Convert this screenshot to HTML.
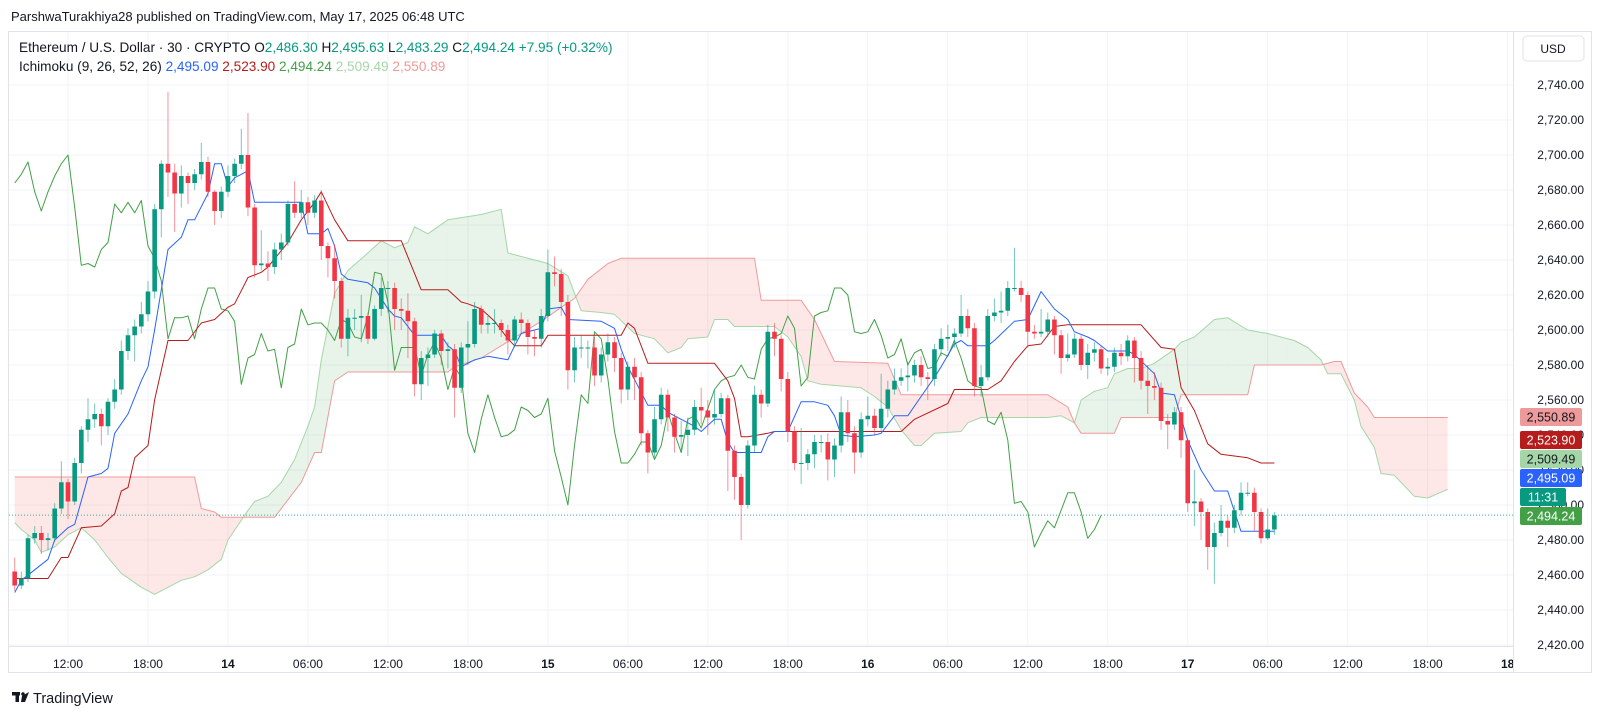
<!DOCTYPE html>
<html><head><meta charset="utf-8"><style>
html,body{margin:0;padding:0;background:#fff;width:1600px;height:718px;overflow:hidden}
body{font-family:"Liberation Sans",sans-serif;color:#131722}
svg{position:absolute;left:0;top:0}
</style></head><body>
<svg id="chart" width="1600" height="718" xmlns="http://www.w3.org/2000/svg">
<text x="11" y="21" font-size="13" fill="#131722">ParshwaTurakhiya28 published on TradingView.com, May 17, 2025 06:48 UTC</text>
<rect x="8.5" y="31.5" width="1583" height="641" fill="none" stroke="#e0e3eb"/>
<g id="grid"></g>
<g id="cloud"></g>
<g id="lines"></g>
<g id="candles"></g>
<g id="axes"></g>
<text x="19" y="52" font-size="13.6"><tspan fill="#131722">Ethereum / U.S. Dollar · 30 · CRYPTO </tspan><tspan fill="#131722"> O</tspan><tspan fill="#089981">2,486.30</tspan><tspan fill="#131722">  H</tspan><tspan fill="#089981">2,495.63</tspan><tspan fill="#131722">  L</tspan><tspan fill="#089981">2,483.29</tspan><tspan fill="#131722">  C</tspan><tspan fill="#089981">2,494.24</tspan><tspan fill="#089981">  +7.95 (+0.32%)</tspan></text>
<text x="19" y="71" font-size="13.6"><tspan fill="#131722">Ichimoku (9, 26, 52, 26) </tspan><tspan fill="#2962FF">2,495.09 </tspan><tspan fill="#B71C1C">2,523.90 </tspan><tspan fill="#43A047">2,494.24 </tspan><tspan fill="#A5D6A7">2,509.49 </tspan><tspan fill="#EF9A9A">2,550.89</tspan></text>
<rect x="1523" y="36" width="61" height="25" rx="4" fill="#fff" stroke="#e0e3eb"/>
<text x="1553" y="53" font-size="12" text-anchor="middle" fill="#131722">USD</text>
<g><rect x="12" y="692" width="8" height="3.5" fill="#131722"/><rect x="15.5" y="692" width="3.5" height="10" fill="#131722"/><circle cx="23" cy="694" r="1.8" fill="#131722"/><polygon points="22,696 29,692 25,702 21,702" fill="#131722"/><text x="33" y="703" font-size="14.5" fill="#131722">TradingView</text></g>
</svg>
<script>
const opens0=2462;
const closes=[2454,2458,2481,2484,2480,2481,2498,2513,2502,2524,2543,2549,2552,2545,2559,2566,2588,2597,2602,2609,2622,2669,2695,2690,2678,2688,2684,2689,2696,2679,2668,2679,2688,2695,2700,2670,2637,2638,2636,2646,2650,2672,2667,2673,2667,2674,2648,2641,2628,2595,2607,2607,2608,2595,2612,2624,2624,2612,2611,2605,2569,2584,2586,2598,2588,2589,2567,2590,2592,2612,2603,2604,2604,2600,2594,2606,2604,2596,2595,2608,2633,2632,2616,2577,2590,2590,2590,2574,2586,2593,2584,2566,2579,2573,2541,2530,2549,2563,2550,2539,2540,2543,2556,2554,2550,2552,2561,2531,2516,2500,2534,2563,2558,2599,2595,2572,2542,2524,2524,2529,2536,2536,2526,2534,2553,2541,2530,2549,2551,2544,2555,2566,2571,2573,2574,2580,2573,2572,2589,2595,2596,2598,2608,2601,2568,2573,2608,2610,2611,2624,2624,2620,2599,2598,2599,2606,2597,2584,2586,2595,2580,2587,2589,2578,2579,2587,2585,2594,2584,2571,2568,2567,2548,2546,2553,2537,2501,2502,2496,2476,2484,2491,2487,2497,2507,2507,2496,2481,2486,2494];
const highs=[2470,2462,2483,2488,2488,2484,2501,2525,2515,2527,2545,2561,2558,2555,2561,2572,2594,2601,2606,2616,2628,2672,2697,2736,2695,2694,2690,2692,2707,2699,2680,2682,2694,2698,2715,2724,2672,2657,2645,2650,2655,2674,2685,2680,2676,2677,2680,2650,2649,2630,2612,2612,2620,2610,2614,2630,2628,2627,2618,2621,2607,2588,2590,2600,2600,2593,2592,2593,2605,2616,2614,2608,2612,2606,2603,2608,2610,2606,2600,2612,2646,2642,2635,2620,2596,2597,2594,2596,2590,2598,2596,2587,2582,2584,2576,2543,2556,2567,2566,2552,2548,2550,2560,2567,2560,2566,2564,2563,2534,2518,2537,2568,2566,2603,2604,2597,2576,2545,2544,2532,2540,2540,2541,2538,2562,2560,2545,2553,2562,2555,2575,2571,2578,2578,2582,2583,2585,2576,2592,2601,2603,2601,2620,2612,2604,2580,2612,2618,2622,2628,2647,2628,2622,2603,2612,2610,2608,2600,2598,2598,2597,2592,2593,2591,2584,2590,2592,2597,2596,2588,2580,2576,2570,2552,2556,2556,2538,2520,2504,2498,2490,2500,2494,2500,2513,2513,2510,2498,2498,2496];
const lows=[2451,2452,2456,2478,2472,2474,2479,2495,2492,2500,2518,2536,2544,2534,2540,2555,2563,2583,2582,2598,2605,2618,2653,2676,2656,2670,2672,2680,2686,2676,2660,2664,2676,2684,2692,2665,2630,2634,2628,2632,2640,2648,2664,2664,2660,2664,2640,2630,2618,2590,2585,2600,2593,2592,2594,2608,2610,2600,2600,2584,2562,2560,2568,2584,2580,2578,2550,2564,2580,2590,2598,2598,2598,2596,2586,2590,2598,2586,2585,2590,2605,2625,2608,2566,2570,2584,2578,2568,2570,2582,2576,2558,2560,2560,2534,2518,2527,2546,2542,2530,2530,2528,2540,2546,2540,2546,2550,2508,2503,2480,2498,2530,2550,2556,2585,2565,2536,2520,2512,2520,2521,2530,2514,2516,2530,2536,2518,2527,2545,2540,2542,2550,2563,2568,2565,2570,2568,2560,2568,2585,2588,2590,2596,2596,2562,2562,2571,2605,2604,2608,2622,2616,2590,2595,2596,2596,2586,2575,2582,2584,2577,2572,2582,2575,2574,2576,2580,2582,2570,2566,2552,2560,2543,2532,2543,2527,2496,2488,2480,2463,2455,2482,2476,2484,2494,2505,2485,2478,2480,2483];
const tenkanIdx=[0,1,3,5,6,8,9,11,13,14,15,17,19,20,21,23,25,26,27,29,30,31,32,33,35,36,43,44,46,47,48,49,50,53,54,56,57,58,60,64,65,66,67,69,71,74,75,76,78,79,80,82,83,88,90,91,92,95,97,98,100,102,103,105,106,107,108,112,113,114,116,118,120,122,123,124,126,129,130,132,134,136,138,139,141,142,143,146,147,150,152,154,156,158,159,161,162,164,167,168,171,172,174,176,178,180,182,184,189];
const tenkanVal=[2450,2457,2463,2469,2480,2487,2489,2516,2518,2521,2541,2552,2571,2579,2600,2646,2653,2663,2663,2678,2695,2695,2682,2687,2691,2673,2673,2655,2655,2658,2648,2632,2629,2627,2624,2612,2608,2607,2597,2597,2591,2588,2579,2583,2585,2583,2591,2598,2600,2601,2612,2613,2606,2605,2601,2589,2579,2557,2557,2553,2549,2545,2542,2549,2549,2536,2530,2530,2539,2542,2542,2559,2559,2557,2551,2540,2539,2540,2541,2551,2551,2562,2573,2579,2592,2594,2591,2591,2594,2605,2606,2622,2612,2606,2599,2596,2594,2588,2588,2586,2575,2564,2563,2537,2520,2508,2508,2485,2485];
const kijunIdx=[0,5,7,8,10,13,15,16,17,18,20,21,23,26,28,30,32,33,35,37,38,41,43,45,46,48,50,58,61,65,67,68,70,72,74,75,79,80,91,92,93,95,105,107,108,109,110,113,114,133,135,140,141,146,148,150,152,154,156,158,169,172,174,175,177,179,181,185,187,189];
const kijunVal=[2458,2458,2470,2470,2487,2488,2495,2508,2510,2527,2534,2560,2594,2594,2604,2606,2613,2615,2630,2633,2636,2650,2663,2673,2679,2663,2651,2651,2623,2623,2616,2615,2612,2605,2595,2591,2591,2597,2597,2604,2601,2581,2581,2571,2561,2539,2539,2541,2542,2542,2549,2558,2566,2566,2571,2582,2591,2592,2602,2603,2603,2590,2589,2567,2554,2535,2529,2527,2524,2524];
const spanAIdx=[0,1,3,4,6,8,10,12,14,16,19,21,23,25,27,29,31,32,35,36,38,40,42,44,45,46,48,50,53,55,57,59,60,62,65,70,73,74,78,80,83,85,88,90,93,96,98,100,101,104,105,107,108,114,116,118,119,121,127,129,131,133,135,136,138,142,143,145,155,157,159,160,162,164,165,167,169,171,174,175,177,180,182,185,188,192,194,196,197,199,201,202,204,205,207,210,212,215];
const spanAVal=[2490,2486,2480,2473,2476,2483,2487,2480,2470,2461,2453,2449,2453,2457,2459,2463,2469,2480,2497,2502,2505,2513,2526,2545,2556,2583,2621,2634,2644,2651,2647,2650,2659,2655,2663,2666,2669,2644,2640,2638,2631,2611,2610,2609,2598,2595,2587,2590,2595,2596,2606,2606,2602,2602,2596,2585,2571,2569,2567,2562,2556,2543,2534,2534,2541,2542,2547,2550,2550,2551,2547,2560,2565,2567,2575,2578,2578,2581,2589,2593,2596,2606,2607,2600,2598,2594,2590,2583,2575,2575,2560,2545,2533,2518,2517,2505,2504,2509];
const spanBIdx=[0,27,28,30,31,39,41,43,45,46,48,50,65,66,70,79,82,84,86,89,91,111,112,118,120,123,131,133,155,158,159,160,165,166,174,175,185,186,196,198,199,201,203,204,215];
const spanBVal=[2516,2516,2498,2496,2493,2493,2503,2513,2530,2530,2571,2576,2576,2579,2584,2605,2613,2618,2629,2638,2641,2641,2617,2617,2606,2582,2581,2563,2563,2556,2547,2541,2541,2550,2550,2563,2563,2580,2580,2582,2582,2564,2556,2550,2550];
const priceTicks=[2740,2720,2700,2680,2660,2640,2620,2600,2580,2560,2540,2520,2500,2480,2460,2440,2420];
const timeTicks=[12,18,24,30,36,42,48,54,60,66,72,78,84,90,96,102,108,114,120];
const timeLabels=["12:00","18:00","14","06:00","12:00","18:00","15","06:00","12:00","18:00","16","06:00","12:00","18:00","17","06:00","12:00","18:00","18"];
const lastClose=2494.24;

const NS="http://www.w3.org/2000/svg";
const PL=9,PR=1513,PT=32,PB=646;
function yOf(p){return 85+(2740-p)*1.75;}
function xOfT(t){return 68+(t-12)*13.33;}
function xOfI(i){return xOfT(8+i/2);}
function mk(tag,attrs,parent){const e=document.createElementNS(NS,tag);for(const k in attrs)e.setAttribute(k,attrs[k]);parent.appendChild(e);return e;}
const grid=document.getElementById('grid'),axes=document.getElementById('axes');
priceTicks.forEach(p=>{
  const l=mk('line',{x1:PL,x2:PR,y1:yOf(p),y2:yOf(p),stroke:'#f0f3fa'},grid);
  
  
  const t=mk('text',{x:1584,y:yOf(p)+4,'font-size':12,'text-anchor':'end',fill:'#131722'},axes);
  t.textContent=p.toLocaleString('en-US',{minimumFractionDigits:2});
  
  
});
timeTicks.forEach((tt,k)=>{
  const x=xOfT(tt);
  const l=mk('line',{x1:x,x2:x,y1:PT,y2:PB,stroke:'#f0f3fa'},grid);
  
  
  const bold=!timeLabels[k].includes(':');
  const t=mk('text',{x:x,y:668,'font-size':12,'text-anchor':'middle',fill:'#131722','font-weight':bold?'bold':'normal'},axes);
  t.textContent=timeLabels[k];
  
  
});
mk('line',{x1:PR+0.5,x2:PR+0.5,y1:31,y2:672,stroke:'#e0e3eb'},axes);
mk('line',{x1:8,x2:PR,y1:PB+0.5,y2:PB+0.5,stroke:'#e0e3eb'},axes);
function interp(idx,val,i){if(i<=idx[0])return val[0];for(let k=1;k<idx.length;k++){if(i<=idx[k]){const f=(i-idx[k-1])/(idx[k]-idx[k-1]);return val[k-1]+f*(val[k]-val[k-1]);}}return val[val.length-1];}
const cloud=document.getElementById('cloud');
const nSpan=spanAIdx[spanAIdx.length-1];
for(let i=0;i<nSpan;i++){
  const a0=interp(spanAIdx,spanAVal,i),a1=interp(spanAIdx,spanAVal,i+1),b0=interp(spanBIdx,spanBVal,i),b1=interp(spanBIdx,spanBVal,i+1);
  const x0=xOfI(i),x1=xOfI(i+1);
  const d0=a0-b0,d1=a1-b1;
  const fillFor=d=>d>=0?'rgba(67,160,71,0.12)':'rgba(244,67,54,0.12)';
  if(d0*d1<0){const f=d0/(d0-d1),xm=x0+f*(x1-x0),pm=a0+f*(a1-a0);
    mk('polygon',{points:`${x0},${yOf(a0)} ${xm},${yOf(pm)} ${x0},${yOf(b0)}`,fill:fillFor(d0)},cloud);
    mk('polygon',{points:`${xm},${yOf(pm)} ${x1},${yOf(a1)} ${x1},${yOf(b1)}`,fill:fillFor(d1)},cloud);
  } else {
    mk('polygon',{points:`${x0},${yOf(a0)} ${x1},${yOf(a1)} ${x1},${yOf(b1)} ${x0},${yOf(b0)}`,fill:fillFor(d0+d1)},cloud);
  }
}
const lines=document.getElementById('lines');
function poly(idx,val,color,name,w){
  const pts=idx.map((ix,k)=>xOfI(ix).toFixed(1)+','+yOf(val[k]).toFixed(1)).join(' ');
  const e=mk('polyline',{points:pts,fill:'none',stroke:color,'stroke-width':w||1,'stroke-linejoin':'round'},lines);
  
  
}
poly(spanAIdx,spanAVal,'#A5D6A7','leading-span-a');
poly(spanBIdx,spanBVal,'#EF9A9A','leading-span-b');
const lagIdx=[],lagVal=[];
for(let i=26;i<closes.length;i++){lagIdx.push(i-26);lagVal.push(closes[i]);}
poly(lagIdx,lagVal,'#43A047','lagging-span');
poly(kijunIdx,kijunVal,'#B71C1C','base-line');
poly(tenkanIdx,tenkanVal,'#2962FF','conversion-line');
const cg=document.getElementById('candles');
closes.forEach((c,i)=>{
  const o=i===0?opens0:closes[i-1];
  const up=c>=o,col=up?'#089981':'#F23645';
  const x=xOfI(i);
  const g=mk('g',{},cg);
  
  
  mk('line',{x1:x,x2:x,y1:yOf(highs[i]),y2:yOf(lows[i]),stroke:col,'stroke-opacity':0.55},g);
  const top=yOf(Math.max(o,c)),bot=yOf(Math.min(o,c));
  mk('rect',{x:x-2.3,y:top,width:4.6,height:Math.max(1,bot-top),fill:col},g);
});
const ly=yOf(lastClose);
const dl=mk('line',{x1:PL,x2:PR,y1:ly,y2:ly,stroke:'#089981','stroke-dasharray':'1,2','stroke-opacity':0.8},axes);


const badges=[["2,550.89",417,'#EF9A9A','#131722'],["2,523.90",440,'#B71C1C','#fff'],["2,509.49",459,'#A5D6A7','#131722'],["2,495.09",478,'#2962FF','#fff'],["11:31",497,'#089981','#fff'],["2,494.24",516,'#43A047','#fff']];
badges.forEach(b=>{
  const g=mk('g',{},axes);
  
  
  const w=b[0]==='11:31'?46:62;
  mk('rect',{x:1520,y:b[1]-9,width:w,height:18,rx:2,fill:b[2]},g);
  const t=mk('text',{x:1520+w/2,y:b[1]+4.5,'font-size':12.5,'text-anchor':'middle',fill:b[3]},g);
  t.textContent=b[0];
});
</script>
</body></html>
